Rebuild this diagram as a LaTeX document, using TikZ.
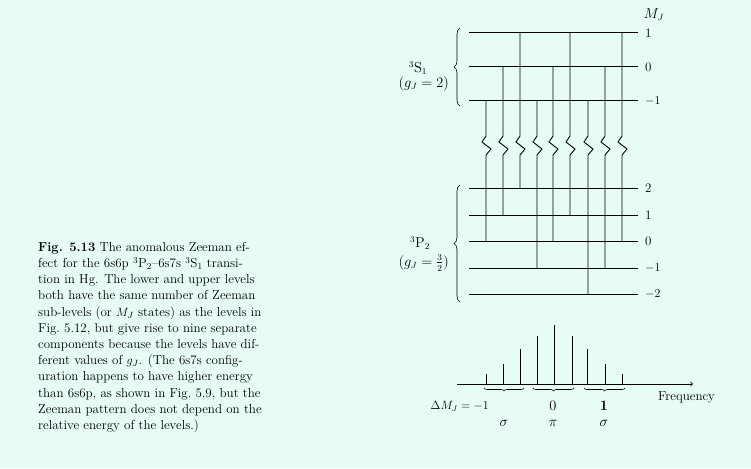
\documentclass[tikz,border=0pt]{standalone}
\usepackage{amsmath}
\usetikzlibrary{decorations.pathreplacing}
\definecolor{bg}{RGB}{230,252,245}
\begin{document}
\begin{tikzpicture}[x=1pt,y=-1pt,
  lvl/.style={line width=1pt},
  tr/.style={line width=0.9pt},
  lab/.style={anchor=west,font=\fontsize{13}{15}\selectfont,inner sep=0pt},
  big/.style={font=\fontsize{13.5}{16}\selectfont,inner sep=0pt},
  brc/.style={decorate,decoration={brace,amplitude=6pt},line width=0.6pt}]
\fill[bg] (0,0) rectangle (751,468);
\useasboundingbox (0,0) rectangle (751,468);
% levels
\foreach \n/\y/\t in {u1/33/1,u0/67/0,um/101/$-1$,l2/188/2,l1/215/1,l0/241/0,lm/268/$-1$,lmm/294/$-2$}{
  \coordinate (\n a) at (469,\y);
  \coordinate (\n b) at (638,\y);
  \draw[lvl] (\n a) -- (\n b);
  \node[lab] (\n t) at (645,\y) {\t};
}
\node[big] (mj) at (654,15) {$M_J$};
% transitions
\foreach \x/\ya/\yb in {486/101/241,503/67/215,520/33/188,537/101/268,553/67/241,570/33/215,588/101/294,605/67/268,622/33/241}{
  \draw[tr] (\x,\ya) -- (\x,136) -- (\x-4,142) -- (\x+5,149) -- (\x,155) -- (\x,\yb);
}
% braces
\draw[brc] (460,106) -- (460,28);
\draw[brc] (460,302) -- (460,185);
\node[big] (s1) at (418,68) {$^3\mathrm{S}_1$};
\node[big,anchor=east] (s1g) at (449,84) {$(g_J=2)$};
\node[big] (p2) at (420,243) {$^3\mathrm{P}_2$};
\node[big,anchor=east] (p2g) at (449,263) {$(g_J=\frac32)$};
% spectrum
\coordinate (ax0) at (457,384);
\coordinate (ax1) at (693,384);
\draw[line width=0.8pt,->] (ax0) -- (ax1);
\foreach \x/\h in {486/374,503/364,520/349,537/336,554/325,572/336,587/349,605/364,622/374}{
  \draw[line width=0.8pt] (\x,384) -- (\x,\h);
}
\draw[brc,decoration={brace,amplitude=3pt,mirror}] (484,388) -- (524,388);
\draw[brc,decoration={brace,amplitude=3pt,mirror}] (533,388) -- (574,388);
\draw[brc,decoration={brace,amplitude=3pt,mirror}] (584,388) -- (625,388);
\node[font=\fontsize{12}{14}\selectfont,inner sep=0pt,anchor=east] (dm) at (489,406) {$\Delta M_J=-1$};
\node[big] (d0) at (553,406) {$0$};
\node[big] (d1) at (604,406) {$\mathbf{1}$};
\node[big] (sg1) at (504,423) {$\sigma$};
\node[big] (pi) at (553,423) {$\pi$};
\node[big] (sg2) at (604,423) {$\sigma$};
\node[font=\fontsize{13}{15}\selectfont,anchor=west,inner sep=0pt] (fq) at (658,397) {Frequency};
% caption
\node[anchor=north west,inner sep=0pt,align=left,font=\fontsize{13}{16.2}\selectfont] (cap) at (38,242) {%
\textbf{Fig. 5.13} The anomalous Zeeman ef-\\
fect for the 6s6p $^3$P$_2$--6s7s $^3$S$_1$ transi-\\
tion in Hg. The lower and upper levels\\
both have the same number of Zeeman\\
sub-levels (or $M_J$ states) as the levels in\\
Fig.~5.12, but give rise to nine separate\\
components because the levels have dif-\\
ferent values of $g_J$. (The 6s7s config-\\
uration happens to have higher energy\\
than 6s6p, as shown in Fig.~5.9, but the\\
Zeeman pattern does not depend on the\\
relative energy of the levels.)};
\end{tikzpicture}
\end{document}
